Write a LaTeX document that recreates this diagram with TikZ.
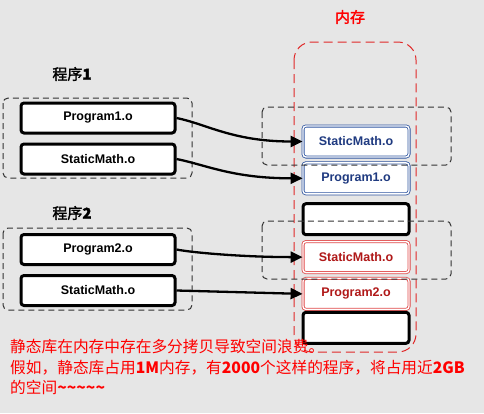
\documentclass[tikz,border=0pt]{standalone}
\usepackage{fontspec}
\setmainfont{Liberation Sans}
\newfontfamily\cjk{Noto Sans CJK SC}
\newfontfamily\cjkb[FakeBold=2]{Noto Sans CJK SC}
\usetikzlibrary{arrows.meta,positioning}
\definecolor{bggray}{HTML}{E6E6E6}
\definecolor{progblue}{HTML}{2F55A0}
\definecolor{textblue}{HTML}{1F3A80}
\definecolor{progred}{HTML}{E04848}
\definecolor{textred}{HTML}{B01818}
\definecolor{memred}{HTML}{E02828}
\definecolor{dashgray}{HTML}{333333}

\begin{document}
\begin{tikzpicture}[
  x=1pt, y=-1pt,
  every node/.style={align=center, inner sep=0pt},
  obj/.style={draw=black, rounded corners=3pt, fill=white, line width=3pt,
              minimum width=154pt, minimum height=30pt,
              font=\bfseries\fontsize{12.5}{14}\selectfont},
  mem/.style={obj, minimum width=106pt, minimum height=31pt},
  memb/.style={mem, draw=progblue, line width=0.8pt, double=white,
               double distance=1.4pt, text=textblue},
  memr/.style={mem, draw=progred, line width=0.8pt, double=white,
               double distance=1.4pt, text=textred},
  grp/.style={draw=dashgray, dash pattern=on 6pt off 4pt, line width=1pt,
              rounded corners=5pt},
  title/.style={font=\cjkb\fontsize{15}{18}\selectfont},
  arr/.style={-{Triangle[length=12pt,width=11pt]}, line width=2.3pt},
]
  \fill[bggray] (0,0) rectangle (484,413);
  \useasboundingbox (0,0) rectangle (484,413);

  % memory column
  \node[title, text=red] (memtitle) at (350,17) {内存};
  \draw[memred, dash pattern=on 9pt off 5pt, line width=1pt, rounded corners=18pt]
    (294,42) rectangle (416,352);
  \node[memb] (msm1) at (356,141.5) {StaticMath.o};
  \node[memb, below=5pt of msm1] (mp1) {Program1.o};
  \node[mem, below=8pt of mp1] (me1) {};
  \node[memr, below=5pt of me1] (msm2) {StaticMath.o};
  \node[memr, below=5pt of msm2] (mp2) {Program2.o};
  \node[mem, below=1pt of mp2] (me2) {};
  \draw[grp] (262,107) rectangle (451,165);
  \draw[grp] (262,221) rectangle (451,279);

  % programs
  \node[title] (t1) at (72,74) {程序\bfseries 1};
  \draw[grp] (3,98) rectangle (192,178);
  \node[obj] (p1) at (98,118) {Program1.o};
  \node[obj, below=8pt of p1] (s1) {StaticMath.o};

  \node[title] (t2) at (72,213) {程序\bfseries 2};
  \draw[grp] (3,228) rectangle (192,310);
  \node[obj] (p2) at (98,249.5) {Program2.o};
  \node[obj, below=8pt of p2] (s2) {StaticMath.o};

  \draw[arr] (p1.east) .. controls +(30,6) and +(-70,0) .. (msm1.west);
  \draw[arr] (s1.east) .. controls +(30,6) and +(-70,0) .. (mp1.west);
  \draw[arr] (p2.east) .. controls +(15,3) and +(-60,0) .. (msm2.west);
  \draw[arr] (s2.east) -- (mp2.west);

  \node[anchor=north west, align=left, text=red,
        font=\fontsize{15.7}{20.5}\selectfont] (note) at (10,339)
    {\cjk 静态库在内存中存在多分拷贝导致空间浪费。\\
     \cjk 假如，静态库占用\textbf{1M}内存，有\textbf{2000}个这样的程序，将占用近\textbf{2GB}\\
     \cjk 的空间\textbf{\textasciitilde\textasciitilde\textasciitilde\textasciitilde\textasciitilde}};
\end{tikzpicture}
\end{document}
